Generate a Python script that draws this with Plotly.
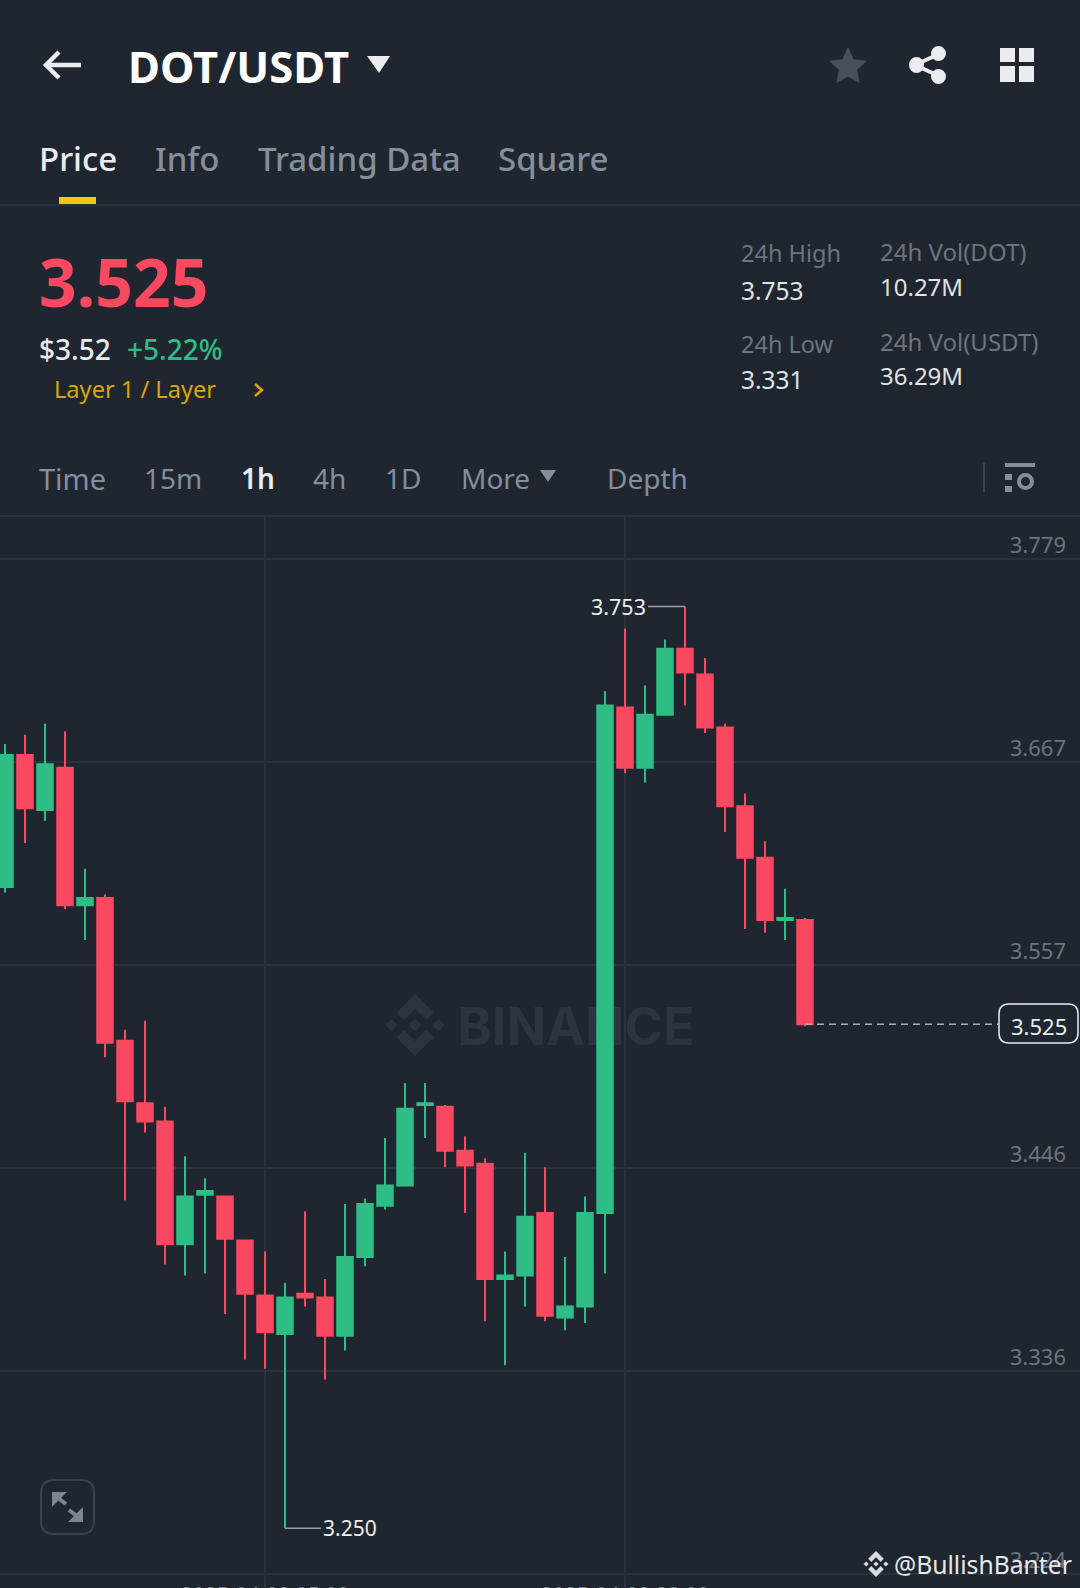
import numpy as np
import pandas as pd
import plotly.graph_objects as go

W, H = 1080, 1588
BG = "#1f2630"
GRID = "#2b323c"
RED = "#f84960"
GREEN = "#2ebd85"
FONT = "Noto Sans"

# candles, one hour apart
opens = [3.600, 3.672, 3.642, 3.665, 3.590, 3.594, 3.516, 3.482, 3.472, 3.405, 3.432, 3.431, 3.407, 3.377,
         3.356, 3.378, 3.376, 3.355, 3.398, 3.426, 3.437, 3.481, 3.480, 3.456, 3.449, 3.386, 3.388, 3.422,
         3.365, 3.371, 3.422, 3.698, 3.665, 3.694, 3.730, 3.716, 3.687, 3.644, 3.616, 3.582, 3.582]
highs = [3.678, 3.683, 3.689, 3.685, 3.610, 3.596, 3.522, 3.527, 3.480, 3.453, 3.441, 3.431, 3.407, 3.401,
         3.384, 3.423, 3.386, 3.427, 3.430, 3.463, 3.493, 3.493, 3.481, 3.464, 3.452, 3.401, 3.455, 3.447,
         3.398, 3.431, 3.707, 3.741, 3.710, 3.735, 3.753, 3.725, 3.689, 3.651, 3.625, 3.599, 3.583]
lows = [3.597, 3.624, 3.636, 3.588, 3.571, 3.507, 3.429, 3.466, 3.394, 3.388, 3.389, 3.367, 3.342, 3.337,
        3.250, 3.371, 3.331, 3.347, 3.393, 3.424, 3.437, 3.463, 3.447, 3.422, 3.363, 3.339, 3.371, 3.363,
        3.358, 3.362, 3.389, 3.662, 3.657, 3.694, 3.699, 3.684, 3.630, 3.577, 3.575, 3.571, 3.524]
closes = [3.672, 3.643, 3.667, 3.590, 3.594, 3.515, 3.483, 3.472, 3.405, 3.431, 3.434, 3.408, 3.378, 3.357,
          3.376, 3.376, 3.355, 3.398, 3.427, 3.437, 3.479, 3.482, 3.456, 3.448, 3.386, 3.388, 3.420, 3.366,
          3.371, 3.422, 3.699, 3.665, 3.694, 3.730, 3.717, 3.687, 3.644, 3.616, 3.582, 3.583, 3.525]
times = pd.date_range("2025-04-01 16:00", periods=len(opens), freq="h")

grid_prices = [3.779, 3.6682, 3.5574, 3.4466, 3.3358, 3.225]
price_labels = ["3.779", "3.667", "3.557", "3.446", "3.336", "3.224"]
date_ticks = ["2025-04-02 05:00", "2025-04-02 23:00"]

last_price = 3.525
high_price = 3.753
low_price = 3.250

y_bottom = 3.2174  # price at the very bottom of the page
x_start = times[0] - pd.Timedelta(hours=0.25)
x_end = times[0] + pd.Timedelta(hours=53.75)


def px_x(v):
    return v / W


def px_y(v):
    return 1 - v / H


def pp(d):
    # path written in page pixels -> paper coords
    out = []
    i = 0
    for tok in d.split():
        if tok.isalpha():
            out.append(tok)
        else:
            out.append(str(px_x(float(tok)) if i % 2 == 0 else px_y(float(tok))))
            i += 1
    return " ".join(out)


shapes = []
annos = []


def fill_path(d, color, layer="above"):
    shapes.append(dict(type="path", xref="paper", yref="paper", path=pp(d), fillcolor=color,
                       line=dict(width=0), layer=layer))


def line_path(d, color, width, layer="above"):
    shapes.append(dict(type="path", xref="paper", yref="paper", path=pp(d), line=dict(color=color, width=width),
                       layer=layer))


def rect(x0, y0, x1, y1, color, kind="rect"):
    shapes.append(dict(type=kind, xref="paper", yref="paper", x0=px_x(x0), x1=px_x(x1), y0=px_y(y0), y1=px_y(y1),
                       fillcolor=color, line=dict(width=0)))


def rounded(x0, y0, x1, y1, r, color, width):
    d = (f"M {x0 + r} {y0} L {x1 - r} {y0} Q {x1} {y0} {x1} {y0 + r} L {x1} {y1 - r} Q {x1} {y1} {x1 - r} {y1} "
         f"L {x0 + r} {y1} Q {x0} {y1} {x0} {y1 - r} L {x0} {y0 + r} Q {x0} {y0} {x0 + r} {y0} Z")
    line_path(d, color, width)


def txt(x, y, s, size, color, anchor="left", weight=400):
    annos.append(dict(xref="paper", yref="paper", x=px_x(x), y=px_y(y), text=s, showarrow=False, xanchor=anchor,
                      yanchor="middle", borderpad=0, font=dict(family=FONT, size=size, color=color, weight=weight)))


def logo(cx, cy, s, color, layer="above"):
    def P(pts):
        return "M " + " L ".join(f"{cx + a * s} {cy + b * s}" for a, b in pts) + " Z"
    for ox in (-0.76, 0, 0.76):
        fill_path(P([(ox, -0.2), (ox + 0.2, 0), (ox, 0.2), (ox - 0.2, 0)]), color, layer)
    top = [(0, -1), (0.6, -0.4), (0.36, -0.16), (0, -0.52), (-0.36, -0.16), (-0.6, -0.4)]
    fill_path(P(top), color, layer)
    fill_path(P([(a, -b) for a, b in top]), color, layer)


# header
line_path("M 46 65 L 81 65", "#eaecef", 4.5)
line_path("M 59 52 L 46 65 L 59 78", "#eaecef", 4.5)
txt(127, 66, "DOT/USDT", 43.6, "#ffffff", weight=700)
fill_path("M 367 56 L 390 56 L 379 73 Z", "#eaecef")
ang = np.arange(10) * np.pi / 5 - np.pi / 2
rad = np.where(np.arange(10) % 2 == 0, 20, 9.5)
fill_path("M " + " L ".join(f"{848 + r * np.cos(a)} {67 + r * np.sin(a)}" for a, r in zip(ang, rad)) + " Z", "#474f5c")
line_path("M 939 54 L 915 65 L 939 76", "#eaecef", 4)
rect(931, 46, 946, 61, "#eaecef", "circle")
rect(909, 57, 924, 73, "#eaecef", "circle")
rect(931, 69, 946, 84, "#eaecef", "circle")
rect(1000, 48, 1015, 62, "#eaecef")
rect(1019, 48, 1034, 62, "#eaecef")
rect(1000, 66, 1015, 82, "#eaecef")
rect(1019, 66, 1034, 82, "#eaecef")

# tabs
txt(38, 158, "Price", 33, "#eaecef", weight=500)
txt(154, 158, "Info", 33, "#848e9c", weight=500)
txt(257, 158, "Trading Data", 33, "#848e9c", weight=500)
txt(497, 158, "Square", 33, "#848e9c", weight=500)
rect(59, 197, 96, 204, "#f5c518")
rect(0, 204, W, 206, GRID)

# ticker block
txt(38, 281, "3.525", 66, RED, weight=700)
txt(38, 349, "$3.52", 28, "#eaecef", weight=500)
txt(126, 349, "+5.22%", 28, GREEN, weight=500)
txt(53, 389, "Layer 1 / Layer", 23.6, "#d9a40c")
line_path("M 255 384 L 262 390 L 255 396", "#d9a40c", 2.5)
txt(740, 253, "24h High", 23.5, "#6c7480")
txt(740, 290, "3.753", 24.5, "#dfe2e6")
txt(740, 344, "24h Low", 23.5, "#6c7480")
txt(740, 380, "3.331", 24.5, "#dfe2e6")
txt(879, 251, "24h Vol(DOT)", 24, "#6c7480")
txt(879, 287, "10.27M", 24, "#dfe2e6")
txt(879, 342, "24h Vol(USDT)", 24, "#6c7480")
txt(879, 376, "36.29M", 24, "#dfe2e6")

# interval row
txt(38, 478, "Time", 29, "#848e9c")
txt(143, 478, "15m", 28, "#848e9c")
txt(240, 478, "1h", 28, "#eaecef", weight=600)
txt(312, 478, "4h", 28, "#848e9c")
txt(384, 478, "1D", 28, "#848e9c")
txt(460, 478, "More", 28, "#848e9c")
fill_path("M 540 470 L 556 470 L 548 482 Z", "#848e9c")
txt(606, 478, "Depth", 28, "#848e9c")
rect(983, 463, 985, 492, "#39414c")
rect(1005, 463, 1035, 467, "#848e9c")
rect(1005, 474, 1012, 480, "#848e9c")
rect(1005, 486, 1012, 492, "#848e9c")
shapes.append(dict(type="circle", xref="paper", yref="paper", x0=px_x(1019), x1=px_x(1032), y0=px_y(475), y1=px_y(488),
                   fillcolor=BG, line=dict(color="#848e9c", width=4)))
rect(0, 515, W, 517, GRID)

# watermark sits under the candles
logo(415, 1025, 31, "#2c343f", "below")
shapes.append(dict(type="rect", xref="paper", yref="paper", x0=px_x(455), x1=px_x(697), y0=px_y(1003), y1=px_y(1045),
                   line=dict(width=0), layer="below",
                   label=dict(text="BINANCE", textposition="middle center",
                              font=dict(family="Inter", size=52, color="#2c343f", weight=700))))

# grid stops at the bottom axis
shapes.append(dict(type="rect", xref="x", yref="y", x0=x_start, x1=x_end, y0=y_bottom, y1=grid_prices[-1],
                   fillcolor=BG, line=dict(width=0), layer="below"))

# expand button
rounded(41, 1480, 94, 1534, 13, "#3a424d", 2)
fill_path("M 52 1492 L 67 1492 L 52 1507 Z", "#7d8590")
fill_path("M 83 1522 L 68 1522 L 83 1507 Z", "#7d8590")
line_path("M 58 1498 L 66 1504", "#7d8590", 4)
line_path("M 77 1516 L 69 1510", "#7d8590", 4)

# high / low / last markers
t_high = times[highs.index(high_price)]
t_low = times[lows.index(low_price)]
t_last = times[-1]
shapes.append(dict(type="line", xref="x", yref="y", x0=t_high, x1=t_high - pd.Timedelta(hours=1.85), y0=high_price,
                   y1=high_price, line=dict(color="#9aa0a8", width=1.5)))
shapes.append(dict(type="line", xref="x", yref="y", x0=t_low, x1=t_low + pd.Timedelta(hours=1.8), y0=low_price,
                   y1=low_price, line=dict(color="#9aa0a8", width=1.5)))
annos.append(dict(xref="x", yref="y", x=t_high - pd.Timedelta(hours=1.87), y=high_price, text=f"{high_price:.3f}",
                  showarrow=False, xanchor="right", yanchor="middle", font=dict(family=FONT, size=21.5, color="#eaecef")))
annos.append(dict(xref="x", yref="y", x=t_low + pd.Timedelta(hours=1.78), y=low_price, text=f"{low_price:.3f}",
                  showarrow=False, xanchor="left", yanchor="middle", font=dict(family=FONT, size=21, color="#eaecef")))
shapes.append(dict(type="line", xref="x", yref="y", x0=t_last, x1=t_last + pd.Timedelta(hours=9.65), y0=last_price,
                   y1=last_price, line=dict(color="#a5abb3", width=1.5, dash="7px,5px")))
rounded(999, 1004, 1078, 1043, 10, "#eaecef", 1.5)
txt(1039, 1026, f"{last_price:.3f}", 22, "#eaecef", "center")

# footer credit
logo(876, 1564, 13, "#d8dadd")
txt(893, 1564, "@BullishBanter", 24.7, "#e6e8ea")

fig = go.Figure(go.Candlestick(
    x=times, open=opens, high=highs, low=lows, close=closes,
    increasing=dict(line=dict(color=GREEN, width=2), fillcolor=GREEN),
    decreasing=dict(line=dict(color=RED, width=2), fillcolor=RED),
    showlegend=False,
))

fig.update_layout(
    width=W, height=H, margin=dict(l=0, r=0, t=0, b=0), paper_bgcolor=BG, plot_bgcolor=BG,
    font=dict(family=FONT), showlegend=False, boxgap=0.225, boxgroupgap=0, shapes=shapes, annotations=annos,
)
fig.update_xaxes(
    rangeslider_visible=False, domain=[0, 1], range=[x_start, x_end], anchor="free", position=px_y(1574),
    tickmode="array", tickvals=[times[13], times[31]], ticktext=date_ticks,
    showgrid=True, gridcolor=GRID, gridwidth=1.5, ticks="", ticklabelstandoff=3,
    tickfont=dict(family=FONT, size=21, color="#848e9c"), showline=True, linecolor=GRID, linewidth=2,
    zeroline=False, automargin=False,
)
fig.update_yaxes(
    domain=[0, px_y(517)], range=[y_bottom, 3.8019], side="right", ticklabelposition="inside",
    tickmode="array", tickvals=grid_prices, ticktext=price_labels, showgrid=True, gridcolor=GRID, gridwidth=1.5,
    ticks="", ticklabelstandoff=11, ticklabelshift=-14, tickfont=dict(family=FONT, size=22, color="#6b7380"),
    showline=False, zeroline=False, automargin=False,
)

fig.write_html("out.html", config=dict(displayModeBar=False),
               post_script="document.body.style.margin='0';document.body.style.background='#1f2630';")
